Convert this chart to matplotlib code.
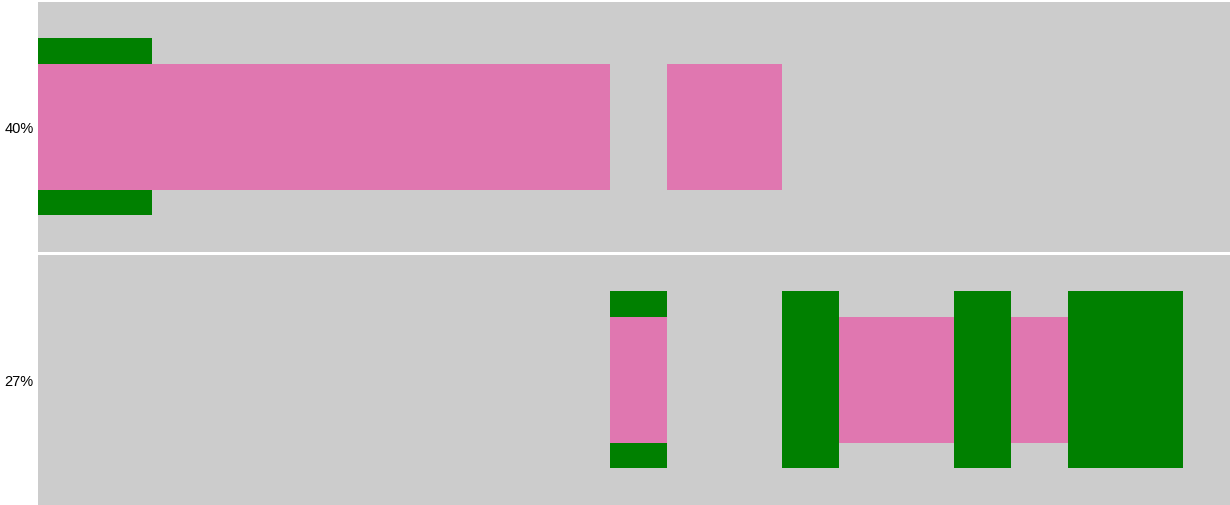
import matplotlib
matplotlib.use("Agg")
import matplotlib.pyplot as plt

plt.rcParams['font.family'] = ['Liberation Sans', 'DejaVu Sans']

rows = ["40%", "27%"]

# (start, length) per row
green_spans = [
    [(0, 2)],
    [(10, 1), (13, 1), (16, 1), (18, 2)],
]
pink_spans = [
    [(0, 10), (11, 2)],
    [(10, 1), (14, 2), (17, 1)],
]

W, H = 1230, 506
fig = plt.figure(figsize=(W / 100, H / 100), dpi=100)

# pixel boxes of the two rows: (top, bottom)
boxes = [(2.6, 252.6), (255.6, 505.6)]
left = 38

for i, label in enumerate(rows):
    top, bot = boxes[i]
    ax = fig.add_axes([left / W, (H - bot) / H, (W - left) / W, (bot - top) / H])
    ax.set_facecolor("#cccccc")
    ax.barh(0, [s[1] for s in green_spans[i]], left=[s[0] for s in green_spans[i]],
            height=0.708, color="#008000", linewidth=0)
    ax.barh(0, [s[1] for s in pink_spans[i]], left=[s[0] for s in pink_spans[i]],
            height=0.504, color="#e077b0", linewidth=0)
    ax.set_xlim(0, 20.83)
    ax.set_ylim(-0.5, 0.5)
    ax.set_xticks([])
    ax.set_yticks([0])
    ax.set_yticklabels([label], fontsize=10.5)
    ax.tick_params(axis="y", length=0, pad=3)
    for sp in ax.spines.values():
        sp.set_visible(False)

fig.savefig("out.png", dpi=100)
